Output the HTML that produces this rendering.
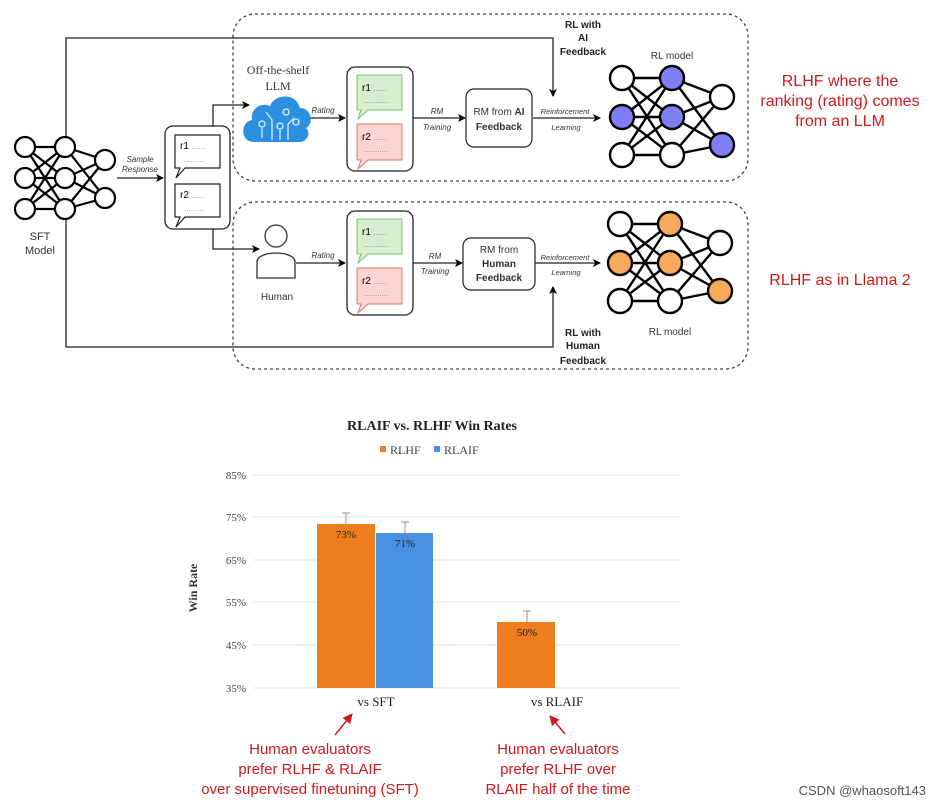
<!DOCTYPE html>
<html><head><meta charset="utf-8"><style>
html,body{margin:0;padding:0;background:#fff;}
svg{display:block;}
.s{font-family:"Liberation Sans",sans-serif;}
.r{font-family:"Liberation Serif",serif;}
</style></head><body>
<svg width="940" height="807" viewBox="0 0 940 807" xmlns="http://www.w3.org/2000/svg">
<defs>
<marker id="a" markerWidth="8" markerHeight="8" refX="7" refY="4" orient="auto" markerUnits="userSpaceOnUse"><path d="M0,0 L8,4 L0,8 L2,4 z" fill="#000"/></marker>
<marker id="ra" markerWidth="10" markerHeight="10" refX="9" refY="5" orient="auto" markerUnits="userSpaceOnUse"><path d="M0,0 L10,5 L0,10 z" fill="#d0191c"/></marker>
</defs>
<g fill="none" stroke="#444" stroke-width="1.3" stroke-dasharray="3,3">
<rect x="233" y="14" width="515" height="167" rx="22"/>
<rect x="233" y="202" width="515" height="167" rx="22"/>
</g>
<g fill="none" stroke="#222" stroke-width="1.3">
<polyline points="66,140 66,38 553,38 553,96" marker-end="url(#a)"/>
<polyline points="66,215 66,347 553,347 553,287" marker-end="url(#a)"/>
<line x1="117" y1="178" x2="163" y2="178" marker-end="url(#a)"/>
<polyline points="213,126 213,105 249,105" marker-end="url(#a)"/>
<polyline points="213,229 213,249 259,249" marker-end="url(#a)"/>
<line x1="308" y1="118" x2="345" y2="118" marker-end="url(#a)"/>
<line x1="413" y1="118" x2="465" y2="118" marker-end="url(#a)"/>
<line x1="533" y1="118" x2="600" y2="118" marker-end="url(#a)"/>
<line x1="296" y1="263" x2="345" y2="263" marker-end="url(#a)"/>
<line x1="413" y1="263" x2="462" y2="263" marker-end="url(#a)"/>
<line x1="535" y1="263" x2="600" y2="263" marker-end="url(#a)"/>
</g>
<!-- SFT NN -->
<g stroke="#000" stroke-width="2.2">
<g id="sftl">
<line x1="25" y1="147" x2="65" y2="147"/><line x1="25" y1="147" x2="65" y2="178"/><line x1="25" y1="147" x2="65" y2="209"/>
<line x1="25" y1="178" x2="65" y2="147"/><line x1="25" y1="178" x2="65" y2="178"/><line x1="25" y1="178" x2="65" y2="209"/>
<line x1="25" y1="209" x2="65" y2="147"/><line x1="25" y1="209" x2="65" y2="178"/><line x1="25" y1="209" x2="65" y2="209"/>
<line x1="65" y1="147" x2="105" y2="160"/><line x1="65" y1="147" x2="105" y2="198"/>
<line x1="65" y1="178" x2="105" y2="160"/><line x1="65" y1="178" x2="105" y2="198"/>
<line x1="65" y1="209" x2="105" y2="160"/><line x1="65" y1="209" x2="105" y2="198"/>
</g>
<g fill="#fff">
<circle cx="25" cy="147" r="10"/><circle cx="25" cy="178" r="10"/><circle cx="25" cy="209" r="10"/>
<circle cx="65" cy="147" r="10"/><circle cx="65" cy="178" r="10"/><circle cx="65" cy="209" r="10"/>
<circle cx="105" cy="160" r="10"/><circle cx="105" cy="198" r="10"/>
</g>
</g>
<text class="s" x="40" y="240" font-size="11" text-anchor="middle" fill="#333">SFT</text>
<text class="s" x="40" y="254" font-size="11" text-anchor="middle" fill="#333">Model</text>
<text class="s" x="140" y="162" font-size="8" font-style="italic" text-anchor="middle" fill="#333">Sample</text>
<text class="s" x="140" y="172" font-size="8" font-style="italic" text-anchor="middle" fill="#333">Response</text>
<!-- response box -->
<rect x="165" y="126" width="65" height="103" rx="8" fill="#fff" stroke="#222" stroke-width="1.3"/>
<path d="M175,135 H220 V168 H185 L176,178 L180,168 H175 z" fill="#fff" stroke="#222" stroke-width="1.2"/>
<path d="M175,184 H220 V217 H185 L176,227 L180,217 H175 z" fill="#fff" stroke="#222" stroke-width="1.2"/>
<text class="s" x="180" y="149" font-size="10">r1 <tspan fill="#999" font-size="8">......</tspan></text>
<text class="s" x="184" y="162" font-size="8" fill="#999">.........</text>
<text class="s" x="180" y="198" font-size="10">r2 <tspan fill="#999" font-size="8">......</tspan></text>
<text class="s" x="184" y="211" font-size="8" fill="#999">.........</text>
<!-- cloud -->
<text class="r" x="278" y="74" font-size="12" text-anchor="middle" fill="#333">Off-the-shelf</text>
<text class="r" x="278" y="90" font-size="12" text-anchor="middle" fill="#333">LLM</text>
<path d="M254,142 C240,142 240,122 252,120 C250,108 262,102 270,106 C274,94 296,92 300,108 C312,108 314,124 306,128 C312,134 306,142 300,142 z" fill="#2d8fe0"/>
<g stroke="#d6efff" stroke-width="1.3" fill="none">
<polyline points="262,138 262,128"/><circle cx="262" cy="124" r="3"/>
<polyline points="272,140 272,120 266,112"/><polyline points="280,140 280,130"/><circle cx="280" cy="126" r="3"/>
<polyline points="288,140 288,124 294,118"/><circle cx="286" cy="112" r="3"/><circle cx="296" cy="122" r="3"/>
</g>
<text class="s" x="323" y="113" font-size="8" font-style="italic" text-anchor="middle" fill="#333">Rating</text>
<text class="s" x="323" y="258" font-size="8" font-style="italic" text-anchor="middle" fill="#333">Rating</text>
<!-- rating boxes -->
<g>
<rect x="347" y="67" width="66" height="104" rx="8" fill="#fff" stroke="#222" stroke-width="1.3"/>
<path d="M357,75 H402 V110 H368 L358,119 L361,110 H357 z" fill="#d6edd0" stroke="#7fbf6f" stroke-width="1"/>
<path d="M357,124 H402 V160 H368 L358,169 L361,160 H357 z" fill="#f9d4d1" stroke="#d97a72" stroke-width="1"/>
<text class="s" x="362" y="91" font-size="10">r1 <tspan fill="#888" font-size="8">......</tspan></text>
<text class="s" x="364" y="103" font-size="8" fill="#888">...........</text>
<text class="s" x="362" y="140" font-size="10">r2 <tspan fill="#888" font-size="8">......</tspan></text>
<text class="s" x="364" y="152" font-size="8" fill="#888">...........</text>
</g>
<g transform="translate(0,144)">
<rect x="347" y="67" width="66" height="104" rx="8" fill="#fff" stroke="#222" stroke-width="1.3"/>
<path d="M357,75 H402 V110 H368 L358,119 L361,110 H357 z" fill="#d6edd0" stroke="#7fbf6f" stroke-width="1"/>
<path d="M357,124 H402 V160 H368 L358,169 L361,160 H357 z" fill="#f9d4d1" stroke="#d97a72" stroke-width="1"/>
<text class="s" x="362" y="91" font-size="10">r1 <tspan fill="#888" font-size="8">......</tspan></text>
<text class="s" x="364" y="103" font-size="8" fill="#888">...........</text>
<text class="s" x="362" y="140" font-size="10">r2 <tspan fill="#888" font-size="8">......</tspan></text>
<text class="s" x="364" y="152" font-size="8" fill="#888">...........</text>
</g>
<text class="s" x="437" y="114" font-size="8" font-style="italic" text-anchor="middle" fill="#333">RM</text>
<text class="s" x="437" y="130" font-size="8" font-style="italic" text-anchor="middle" fill="#333">Training</text>
<text class="s" x="435" y="259" font-size="8" font-style="italic" text-anchor="middle" fill="#333">RM</text>
<text class="s" x="435" y="274" font-size="8" font-style="italic" text-anchor="middle" fill="#333">Training</text>
<!-- human -->
<circle cx="276" cy="236" r="11" fill="#fff" stroke="#333" stroke-width="1.3"/>
<path d="M257,278 V262 C257,250 295,250 295,262 V278 z" fill="#fff" stroke="#333" stroke-width="1.3"/>
<text class="s" x="277" y="300" font-size="10" text-anchor="middle" fill="#333">Human</text>
<!-- RM boxes -->
<rect x="466" y="89" width="66" height="58" rx="8" fill="#fff" stroke="#222" stroke-width="1.2"/>
<text class="s" x="499" y="115" font-size="10" text-anchor="middle" fill="#333">RM from <tspan font-weight="bold">AI</tspan></text>
<text class="s" x="499" y="130" font-size="10" text-anchor="middle" font-weight="bold" fill="#333">Feedback</text>
<rect x="463" y="238" width="72" height="52" rx="8" fill="#fff" stroke="#222" stroke-width="1.2"/>
<text class="s" x="499" y="253" font-size="10" text-anchor="middle" fill="#333">RM from</text>
<text class="s" x="499" y="267" font-size="10" text-anchor="middle" font-weight="bold" fill="#333">Human</text>
<text class="s" x="499" y="281" font-size="10" text-anchor="middle" font-weight="bold" fill="#333">Feedback</text>
<text class="s" x="565" y="114" font-size="7.5" font-style="italic" text-anchor="middle" fill="#333">Reinforcement</text>
<text class="s" x="566" y="130" font-size="7.5" font-style="italic" text-anchor="middle" fill="#333">Learning</text>
<text class="s" x="565" y="260" font-size="7.5" font-style="italic" text-anchor="middle" fill="#333">Reinforcement</text>
<text class="s" x="566" y="275" font-size="7.5" font-style="italic" text-anchor="middle" fill="#333">Learning</text>
<g class="s" font-size="10" font-weight="bold" text-anchor="middle" fill="#222">
<text x="583" y="28">RL with</text><text x="583" y="41">AI</text><text x="583" y="55">Feedback</text>
<text x="583" y="336">RL with</text><text x="583" y="349">Human</text><text x="583" y="364">Feedback</text>
</g>
<text class="s" x="672" y="59" font-size="10" text-anchor="middle" fill="#333">RL model</text>
<text class="s" x="670" y="335" font-size="10" text-anchor="middle" fill="#333">RL model</text>
<!-- RL NN top -->
<g stroke="#000" stroke-width="2.4">
<g>
<line x1="622" y1="78" x2="672" y2="78"/><line x1="622" y1="78" x2="672" y2="117"/><line x1="622" y1="78" x2="672" y2="155"/>
<line x1="622" y1="117" x2="672" y2="78"/><line x1="622" y1="117" x2="672" y2="117"/><line x1="622" y1="117" x2="672" y2="155"/>
<line x1="622" y1="155" x2="672" y2="78"/><line x1="622" y1="155" x2="672" y2="117"/><line x1="622" y1="155" x2="672" y2="155"/>
<line x1="672" y1="78" x2="722" y2="97"/><line x1="672" y1="78" x2="722" y2="145"/>
<line x1="672" y1="117" x2="722" y2="97"/><line x1="672" y1="117" x2="722" y2="145"/>
<line x1="672" y1="155" x2="722" y2="97"/><line x1="672" y1="155" x2="722" y2="145"/>
</g>
<circle cx="622" cy="78" r="12" fill="#fff"/><circle cx="622" cy="117" r="12" fill="#7f7ff5"/><circle cx="622" cy="155" r="12" fill="#fff"/>
<circle cx="672" cy="78" r="12" fill="#7f7ff5"/><circle cx="672" cy="117" r="12" fill="#7f7ff5"/><circle cx="672" cy="155" r="12" fill="#fff"/>
<circle cx="722" cy="97" r="12" fill="#fff"/><circle cx="722" cy="145" r="12" fill="#7f7ff5"/>
</g>
<g stroke="#000" stroke-width="2.4" transform="translate(-2,146)">
<g>
<line x1="622" y1="78" x2="672" y2="78"/><line x1="622" y1="78" x2="672" y2="117"/><line x1="622" y1="78" x2="672" y2="155"/>
<line x1="622" y1="117" x2="672" y2="78"/><line x1="622" y1="117" x2="672" y2="117"/><line x1="622" y1="117" x2="672" y2="155"/>
<line x1="622" y1="155" x2="672" y2="78"/><line x1="622" y1="155" x2="672" y2="117"/><line x1="622" y1="155" x2="672" y2="155"/>
<line x1="672" y1="78" x2="722" y2="97"/><line x1="672" y1="78" x2="722" y2="145"/>
<line x1="672" y1="117" x2="722" y2="97"/><line x1="672" y1="117" x2="722" y2="145"/>
<line x1="672" y1="155" x2="722" y2="97"/><line x1="672" y1="155" x2="722" y2="145"/>
</g>
<circle cx="622" cy="78" r="12" fill="#fff"/><circle cx="622" cy="117" r="12" fill="#f7a95c"/><circle cx="622" cy="155" r="12" fill="#fff"/>
<circle cx="672" cy="78" r="12" fill="#f7a95c"/><circle cx="672" cy="117" r="12" fill="#f7a95c"/><circle cx="672" cy="155" r="12" fill="#fff"/>
<circle cx="722" cy="97" r="12" fill="#fff"/><circle cx="722" cy="145" r="12" fill="#f7a95c"/>
</g>
<g class="s" font-size="16" fill="#d0191c" text-anchor="middle">
<text x="840" y="86">RLHF where the</text>
<text x="840" y="106">ranking (rating) comes</text>
<text x="840" y="126">from an LLM</text>
<text x="840" y="285">RLHF as in Llama 2</text>
</g>
<!-- chart -->
<text class="r" x="432" y="430" font-size="14" font-weight="bold" text-anchor="middle" fill="#222">RLAIF vs. RLHF Win Rates</text>
<rect x="380" y="446" width="6" height="6" fill="#ed7d1f"/>
<text class="r" x="390" y="454" font-size="12" fill="#444">RLHF</text>
<rect x="434" y="446" width="6" height="6" fill="#4a90e2"/>
<text class="r" x="444" y="454" font-size="12" fill="#444">RLAIF</text>
<g stroke="#e4e4e4" stroke-width="1">
<line x1="253" y1="475" x2="680" y2="475"/><line x1="253" y1="517" x2="680" y2="517"/>
<line x1="253" y1="560" x2="680" y2="560"/><line x1="253" y1="602" x2="680" y2="602"/>
<line x1="253" y1="645" x2="680" y2="645"/><line x1="253" y1="688" x2="680" y2="688"/>
</g>
<g class="r" font-size="11" fill="#444" text-anchor="end">
<text x="246" y="479">85%</text><text x="246" y="521">75%</text><text x="246" y="564">65%</text>
<text x="246" y="606">55%</text><text x="246" y="649">45%</text><text x="246" y="692">35%</text>
</g>
<text class="r" font-size="12" font-weight="bold" fill="#333" text-anchor="middle" transform="translate(197,588) rotate(-90)">Win Rate</text>
<rect x="317" y="524" width="58" height="164" fill="#ed7d1f"/>
<rect x="376" y="533" width="57" height="155" fill="#4a90e2"/>
<rect x="497" y="622" width="58" height="66" fill="#ed7d1f"/>
<g stroke="#b08870" stroke-width="1">
<line x1="346" y1="513" x2="346" y2="524"/><line x1="342" y1="513" x2="350" y2="513"/>
<line x1="405" y1="522" x2="405" y2="533"/><line x1="401" y1="522" x2="409" y2="522"/>
<line x1="527" y1="611" x2="527" y2="622"/><line x1="523" y1="611" x2="531" y2="611"/>
</g>
<g class="r" font-size="11" fill="#222" text-anchor="middle">
<text x="346" y="538">73%</text><text x="405" y="547">71%</text><text x="527" y="636">50%</text>
</g>
<text class="r" x="376" y="706" font-size="13" text-anchor="middle" fill="#222">vs SFT</text>
<text class="r" x="557" y="706" font-size="13" text-anchor="middle" fill="#222">vs RLAIF</text>
<line x1="335" y1="735" x2="352" y2="714" stroke="#d0191c" stroke-width="1.5" marker-end="url(#ra)"/>
<line x1="565" y1="734" x2="550" y2="716" stroke="#d0191c" stroke-width="1.5" marker-end="url(#ra)"/>
<g class="s" font-size="15" fill="#d0191c" text-anchor="middle">
<text x="310" y="754">Human evaluators</text>
<text x="310" y="774">prefer RLHF &amp; RLAIF</text>
<text x="310" y="794">over supervised finetuning (SFT)</text>
<text x="558" y="754">Human evaluators</text>
<text x="558" y="774">prefer RLHF over</text>
<text x="558" y="794">RLAIF half of the time</text>
</g>
<text class="s" x="926" y="795" font-size="13" text-anchor="end" fill="#555">CSDN @whaosoft143</text>
</svg>
</body></html>
